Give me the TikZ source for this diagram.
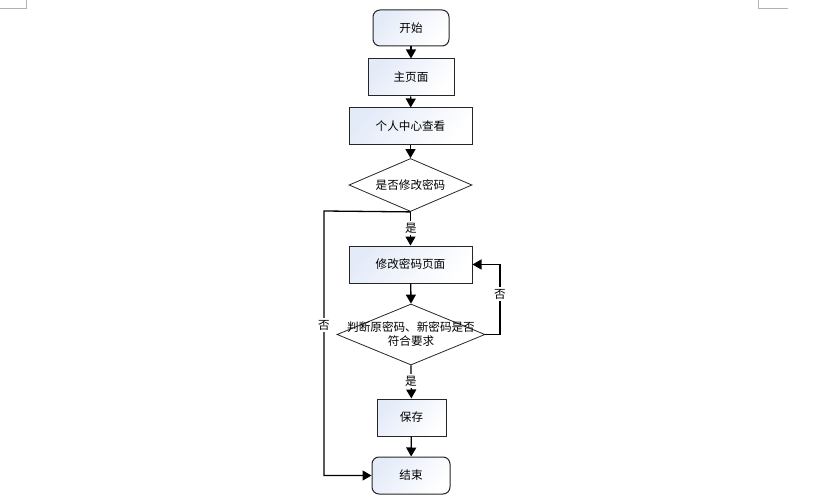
\documentclass[tikz,border=0pt]{standalone}
\usepackage{fontspec}
\newfontfamily\cjk{Noto Sans CJK SC}
\usetikzlibrary{shapes.geometric,arrows.meta}
\definecolor{lightfill}{RGB}{228,235,248}
\begin{document}
\begin{tikzpicture}[x=1pt,y=-1pt,
  every node/.style={font=\cjk\fontsize{11.6}{14}\selectfont},
  boxfill/.style={shading=axis,left color=lightfill,right color=white,shading angle=50},
  proc/.style={draw=black!85,line width=1pt,rectangle,boxfill,inner sep=0pt},
  term/.style={proc,rounded corners=7pt},
  dec/.style={draw=black!85,line width=0.8pt,fill=white,diamond,aspect=2.3,inner sep=0pt},
  arr/.style={line width=1.3pt,-{Triangle[width=10pt,length=9pt]}},
  lbl/.style={fill=white,inner sep=1.5pt},
  cornermark/.style={draw=black!30,line width=0.8pt}]
\useasboundingbox (0,0) rectangle (825,500);
% page corner marks
\draw[cornermark] (0,8) -- (26,8) -- (26,0);
\draw[cornermark] (758,0) -- (758,8) -- (788,8);

\node[term,minimum width=76pt,minimum height=36pt] (start) at (411,28) {开始};
\node[proc,minimum width=86pt,minimum height=37pt] (home) at (411,77.5) {主页面};
\node[proc,minimum width=123pt,minimum height=37pt] (center) at (410.5,126.5) {个人中心查看};
\node[dec,minimum width=123pt,minimum height=53pt] (q1) at (410.5,185) {是否修改密码};
\node[proc,minimum width=123pt,minimum height=37pt] (page) at (410.5,264.5) {修改密码页面};
\node[dec,minimum width=148pt,minimum height=61pt] (q2) at (411,334.5) {};
\node[align=center] (q2t) at (411,334.5) {判断原密码、新密码是否\\符合要求};
\node[proc,minimum width=69pt,minimum height=37pt] (save) at (411.5,417.5) {保存};
\node[term,minimum width=78pt,minimum height=37pt] (end) at (411,475.5) {结束};

\coordinate (lc1) at (324,211);
\coordinate (lc2) at (324,475.5);
\coordinate (rc1) at (500,334.5);
\coordinate (rc2) at (500,264.5);

\draw[arr] (start) -- (home);
\draw[arr] (home) -- (center);
\draw[arr] (center) -- (q1);
\draw[arr] (q1.south) -- (page);
\draw[arr] (page) -- (q2.north);
\draw[arr] (q2.south) -- (save);
\draw[arr] (save) -- (end);
\draw[arr] (q2.east) -- (rc1) -- (rc2) -- (page.east);
\draw[arr] (q1.south) -- (lc1) -- (lc2) -- (end.west);

\node[lbl] (y1) at (411,228) {是};
\node[lbl] (y2) at (411,381) {是};
\node[lbl] (n1) at (500,294) {否};
\node[lbl] (n2) at (324,325) {否};
\end{tikzpicture}
\end{document}
